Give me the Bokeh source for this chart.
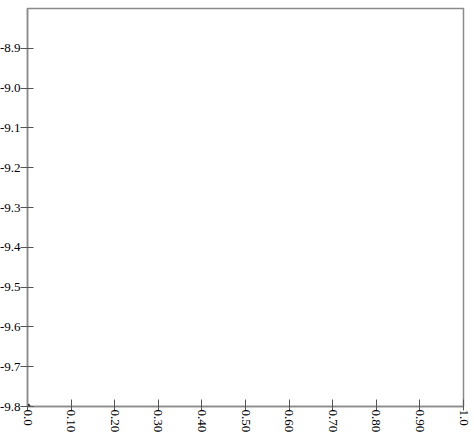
import math
from bokeh.plotting import figure
from bokeh.models import Range1d, FixedTicker
from bokeh.embed import file_html
from bokeh.resources import INLINE

# data
point_x = [0.0]
point_y = [-9.8]

x_tick_values = [0.0, 0.1, 0.2, 0.3, 0.4, 0.5, 0.6, 0.7, 0.8, 0.9, 1.0]
x_tick_labels = ["0.0", "0.10", "0.20", "0.30", "0.40", "0.50", "0.60", "0.70", "0.80", "0.90", "1.0"]
y_tick_values = [-9.8, -9.7, -9.6, -9.5, -9.4, -9.3, -9.2, -9.1, -9.0, -8.9]
y_tick_labels = ["-9.8", "-9.7", "-9.6", "-9.5", "-9.4", "-9.3", "-9.2", "-9.1", "-9.0", "-8.9"]

FONT = "Liberation Serif"

p = figure(width=474, height=435, output_backend="svg", toolbar_location=None,
           x_range=Range1d(0.0, 1.0), y_range=Range1d(-9.8, -8.8),
           min_border_left=0, min_border_right=7, min_border_top=8, min_border_bottom=0,
           styles={"margin-left": "-4px"})

p.background_fill_color = "white"
p.border_fill_color = "white"
p.outline_line_color = "#8a8a8a"
p.outline_line_width = 1.5
p.xgrid.visible = False
p.ygrid.visible = False

p.scatter(point_x, point_y, size=5, color="black", marker="circle")

p.xaxis.ticker = FixedTicker(ticks=x_tick_values)
p.xaxis.major_label_overrides = {v: l for v, l in zip(x_tick_values, x_tick_labels)}
p.yaxis.ticker = FixedTicker(ticks=y_tick_values)
p.yaxis.major_label_overrides = {v: l for v, l in zip(y_tick_values, y_tick_labels)}

for ax in (p.xaxis, p.yaxis):
    ax.axis_line_color = "#8a8a8a"
    ax.axis_line_width = 1.5
    ax.major_tick_line_color = "#555555"
    ax.minor_tick_line_color = None
    ax.major_label_text_font = FONT
    ax.major_label_text_font_size = "13px"
    ax.major_label_text_color = "black"

p.xaxis.major_label_standoff = -1
p.yaxis.major_label_standoff = 0
p.xaxis.major_tick_in = 7
p.xaxis.major_tick_out = 4
p.xaxis.major_label_orientation = -math.pi / 2
p.yaxis.major_tick_in = 6
p.yaxis.major_tick_out = 7

open("out.html", "w").write(file_html(p, INLINE))
